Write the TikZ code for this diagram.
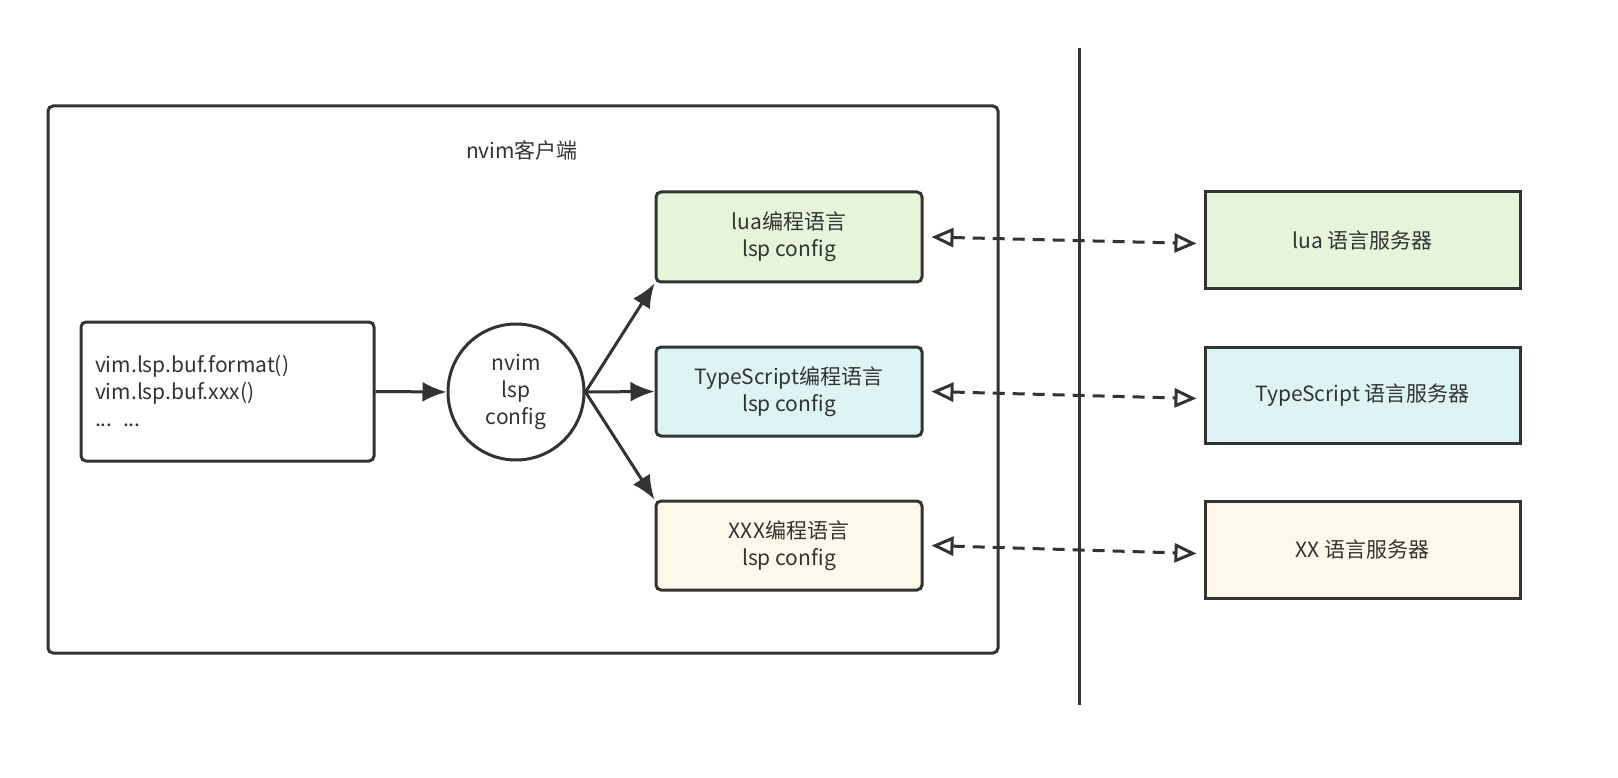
\documentclass[tikz,border=0pt]{standalone}
\usepackage{fontspec}
\setmainfont{Noto Sans CJK SC}
\usetikzlibrary{arrows.meta}
\definecolor{cg}{HTML}{E5F5DA}
\definecolor{cc}{HTML}{DCF4F4}
\definecolor{cy}{HTML}{FCF9EA}
\definecolor{ink}{HTML}{333333}
\begin{document}
\begin{tikzpicture}[x=1pt,y=-1pt,
  every node/.style={font=\fontsize{21}{27}\selectfont,text=ink},
  rbox/.style={draw=ink,line width=3pt,rounded corners=5pt},
  sbox/.style={draw=ink,line width=3pt},
  sol/.style={draw=ink,line width=3pt,-{Latex[length=24pt,width=20pt]}},
  dsh/.style={draw=ink,line width=3pt,dash pattern=on 12pt off 8pt,{Triangle[open,length=22pt,width=19pt]}-{Triangle[open,length=22pt,width=19pt]}}]
\useasboundingbox (0,0) rectangle (1618,778);
\draw[rbox] (48,106) rectangle (998,653);
\node (title) at (522,150) {nvim客户端};
\draw[draw=ink,line width=3pt] (1079,48) coordinate (vt) -- (1079,705) coordinate (vb);
\node[rbox,minimum width=293pt,minimum height=139pt,align=left,text width=265pt] (api) at (227.5,391.5) {vim.lsp.buf.format()\\vim.lsp.buf.xxx()\\... ...};
\node[circle,draw=ink,line width=3pt,minimum size=136pt,align=center,inner sep=0pt] (nv) at (516,392) {nvim\\lsp\\config};
\node[rbox,fill=cg,minimum width=266pt,minimum height=90pt,align=center] (l1) at (789,237) {lua编程语言\\lsp config};
\node[rbox,fill=cc,minimum width=266pt,minimum height=89pt,align=center] (l2) at (789,391.5) {TypeScript编程语言\\lsp config};
\node[rbox,fill=cy,minimum width=266pt,minimum height=89pt,align=center] (l3) at (789,545.5) {XXX编程语言\\lsp config};
\node[sbox,fill=cg,minimum width=315pt,minimum height=97pt] (s1) at (1362.5,240.5) {lua 语言服务器};
\node[sbox,fill=cc,minimum width=315pt,minimum height=96pt] (s2) at (1362.5,395) {TypeScript 语言服务器};
\node[sbox,fill=cy,minimum width=315pt,minimum height=97pt] (s3) at (1362.5,549.5) {XX 语言服务器};
\draw[sol] (api.east) -- (nv.west);
\draw[sol] (nv.east) -- (l1.south west);
\draw[sol] (nv.east) -- (l2.west);
\draw[sol] (nv.east) -- (l3.north west);
\draw[dsh] ([xshift=8pt]l1.east) -- ([xshift=-7pt,yshift=-3pt]s1.west);
\draw[dsh] ([xshift=8pt]l2.east) -- ([xshift=-7pt,yshift=-3.5pt]s2.west);
\draw[dsh] ([xshift=8pt]l3.east) -- ([xshift=-7pt,yshift=-4pt]s3.west);
\end{tikzpicture}
\end{document}
